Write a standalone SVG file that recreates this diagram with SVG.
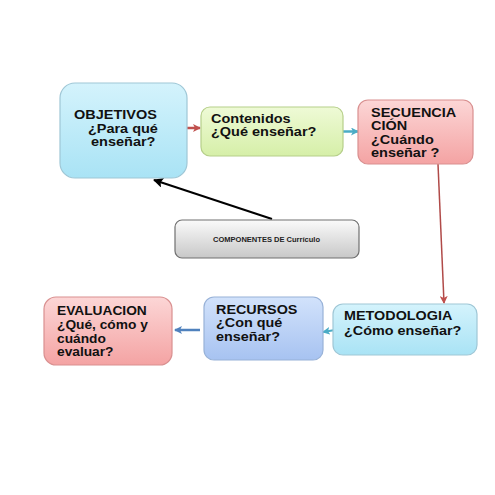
<svg xmlns="http://www.w3.org/2000/svg" width="495" height="495" viewBox="0 0 495 495">
<defs>
<linearGradient id="gCyan" x1="0" y1="0" x2="0" y2="1"><stop offset="0" stop-color="#d4f3fc"/><stop offset="1" stop-color="#a9e3f5"/></linearGradient>
<linearGradient id="gGreen" x1="0" y1="0" x2="0" y2="1"><stop offset="0" stop-color="#eefad6"/><stop offset="1" stop-color="#d6efa8"/></linearGradient>
<linearGradient id="gPink" x1="0" y1="0" x2="0" y2="1"><stop offset="0" stop-color="#fcd6d6"/><stop offset="1" stop-color="#f4a3a3"/></linearGradient>
<linearGradient id="gBlue" x1="0" y1="0" x2="0" y2="1"><stop offset="0" stop-color="#d2e2fb"/><stop offset="1" stop-color="#a7c3f1"/></linearGradient>
<linearGradient id="gGray" x1="0" y1="0" x2="0" y2="1"><stop offset="0" stop-color="#fafafa"/><stop offset="1" stop-color="#c8c8c8"/></linearGradient>
<marker id="aRed" markerWidth="8" markerHeight="8" refX="7" refY="4" orient="auto" markerUnits="userSpaceOnUse"><path d="M0,0 L8,4 L0,8 L2,4 Z" fill="#c0504d"/></marker>
<marker id="aCyan" markerWidth="8" markerHeight="8" refX="7" refY="4" orient="auto" markerUnits="userSpaceOnUse"><path d="M0,0 L8,4 L0,8 L2,4 Z" fill="#4bacc6"/></marker>
<marker id="aBlue" markerWidth="8" markerHeight="8" refX="7" refY="4" orient="auto" markerUnits="userSpaceOnUse"><path d="M0,0 L8,4 L0,8 L2,4 Z" fill="#4f81bd"/></marker>
<marker id="aBlack" markerWidth="10" markerHeight="10" refX="9" refY="5" orient="auto" markerUnits="userSpaceOnUse"><path d="M0,0 L10,5 L0,10 L2,5 Z" fill="#000"/></marker>
</defs>
<style>
.box{stroke-width:1.2}
.t{font-family:"Liberation Sans",Arial,sans-serif;font-weight:bold;font-size:12.5px;fill:#111}
.s{font-family:"Liberation Sans",Arial,sans-serif;font-weight:bold;font-size:7px;fill:#222}
</style>
<rect width="495" height="495" fill="#fff"/>
<g id="connectors" fill="none">
<line x1="185" y1="128" x2="200" y2="128" stroke="#c0504d" stroke-width="2.5" marker-end="url(#aRed)"/>
<line x1="340" y1="131.5" x2="358" y2="131.5" stroke="#4bacc6" stroke-width="2.5" marker-end="url(#aCyan)"/>
<line x1="438" y1="164" x2="444" y2="303" stroke="#b04a48" stroke-width="1.5" marker-end="url(#aRed)"/>
<line x1="341" y1="329" x2="323" y2="332" stroke="#4bacc6" stroke-width="2" marker-end="url(#aCyan)"/>
<line x1="200" y1="330" x2="175" y2="330" stroke="#4f81bd" stroke-width="2.5" marker-end="url(#aBlue)"/>
<line x1="272" y1="219" x2="154" y2="180" stroke="#000" stroke-width="2" marker-end="url(#aBlack)"/>
</g>
<g id="objetivos">
<rect class="box" x="60" y="83" width="127" height="95" rx="15" fill="url(#gCyan)" stroke="#9fc7d6"/>
<g transform="translate(74 0) scale(1.16 1)">
<text class="t" x="0" y="119">OBJETIVOS</text>
<text class="t" x="12" y="133">¿Para qué</text>
<text class="t" x="14.7" y="146">enseñar?</text>
</g>
</g>
<g id="contenidos">
<rect class="box" x="201" y="107" width="142" height="49" rx="9" fill="url(#gGreen)" stroke="#b6cf8a"/>
<g transform="translate(211 0) scale(1.16 1)">
<text class="t" x="0" y="123">Contenidos</text>
<text class="t" x="0" y="136">¿Qué enseñar?</text>
</g>
</g>
<g id="secuencia">
<rect class="box" x="358" y="100" width="115" height="64" rx="10" fill="url(#gPink)" stroke="#d99090"/>
<g transform="translate(371 0) scale(1.16 1)">
<text class="t" x="0" y="117">SECUENCIA</text>
<text class="t" x="0" y="130">CIÓN</text>
<text class="t" x="0" y="144">¿Cuándo</text>
<text class="t" x="0" y="157">enseñar ?</text>
</g>
</g>
<g id="componentes">
<rect class="box" x="175" y="220" width="184" height="38" rx="7" fill="url(#gGray)" stroke="#707070"/>
<text class="s" x="213" y="242" textLength="107" lengthAdjust="spacingAndGlyphs">COMPONENTES DE Currículo</text>
</g>
<g id="metodologia">
<rect class="box" x="333" y="304" width="144" height="51" rx="10" fill="url(#gCyan)" stroke="#9fc7d6"/>
<g transform="translate(344 0) scale(1.15 1)">
<text class="t" x="0" y="320">METODOLOGIA</text>
<text class="t" x="0" y="335">¿Cómo enseñar?</text>
</g>
</g>
<g id="recursos">
<rect class="box" x="204" y="297" width="119" height="63" rx="10" fill="url(#gBlue)" stroke="#98b2d8"/>
<g transform="translate(216 0) scale(1.15 1)">
<text class="t" x="0" y="314">RECURSOS</text>
<text class="t" x="0" y="327">¿Con qué</text>
<text class="t" x="0" y="341">enseñar?</text>
</g>
</g>
<g id="evaluacion">
<rect class="box" x="44" y="297" width="128" height="68" rx="12" fill="url(#gPink)" stroke="#d99090"/>
<g transform="translate(57 0) scale(1.1 1)">
<text class="t" x="0" y="315">EVALUACION</text>
<text class="t" x="0" y="329">¿Qué, cómo y</text>
<text class="t" x="0" y="343">cuándo</text>
<text class="t" x="0" y="356">evaluar?</text>
</g>
</g>
</svg>
